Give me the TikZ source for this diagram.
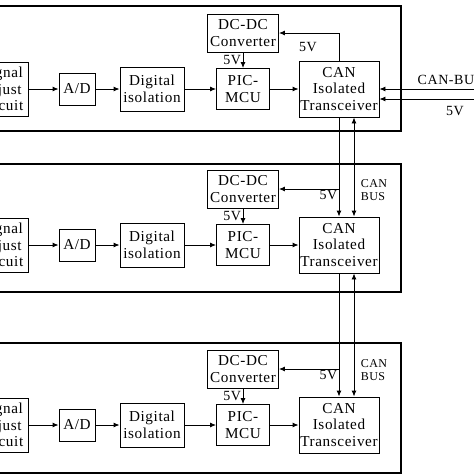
\documentclass[tikz,border=0pt]{standalone}
\usepackage{fontspec}
\setmainfont{Liberation Serif}
\newfontfamily\boxfont[LetterSpace=4]{Liberation Serif}
\usetikzlibrary{arrows.meta}

\tikzset{
    blk/.style={draw, line width=0.9pt, align=center, inner sep=1pt,
        font=\boxfont\fontsize{15.2}{16.5}\selectfont},
    arr/.style={-{Latex[length=6pt,width=5pt]}, line width=0.9pt},
    lbl/.style={font=\boxfont\fontsize{14}{16}\selectfont, inner sep=1.5pt},
    smalllbl/.style={font=\boxfont\fontsize{12}{13}\selectfont, align=left, inner sep=0pt}
}

\begin{document}
\begin{tikzpicture}[x=1pt, y=-1pt]
    \useasboundingbox (0,0) rectangle (474,474);
    % three identical node panels
    \foreach \i/\y/\t/\b in {1/89/6/131, 2/245/164/292, 3/425/343/473} {
        \draw[line width=2.2pt] (-10,\t) rectangle (401,\b);
        \node[blk, minimum width=52pt, minimum height=54pt] (sig\i) at (2,\y) {Signal\\adjust\\circuit};
        \node[blk, minimum width=36pt, minimum height=32pt] (ad\i) at (77,\y) {A/D};
        \node[blk, minimum width=64pt, minimum height=44pt] (dig\i) at (152,\y) {Digital\\isolation};
        \node[blk, minimum width=53pt, minimum height=41pt] (mcu\i) at (243,\y) {PIC-\\MCU};
        \node[blk, minimum width=71pt, minimum height=38pt] (dc\i) at (243,\y-56) {DC-DC\\Converter};
        \node[blk, minimum width=80pt, minimum height=56pt] (can\i) at (339,\y) {CAN\\Isolated\\Transceiver};
        \draw[arr] (sig\i) -- (ad\i);
        \draw[arr] (ad\i) -- (dig\i);
        \draw[arr] (dig\i) -- (mcu\i);
        \draw[arr] (mcu\i) -- (can\i);
        \draw[arr] (dc\i) -- node[lbl, left] {5V} (mcu\i);
    }
    % bus and power coming in on the right
    \coordinate (busin) at (480,89);
    \coordinate (pwrin) at (480,99);
    \draw[arr] (busin) -- (can1.east |- busin);
    \draw[arr] (pwrin) -- (can1.east |- pwrin);
    \node[lbl, anchor=west] (buslbl) at (416,80) {CAN-BUS};
    \node[lbl] (pwrlbl) at (455,111) {5V};
    \draw[arr] (can1.north) |- (dc1.east);
    \node[lbl] (v1) at (308,47) {5V};
    % links between the panels
    \draw[arr] (can1.south) -- (can2.north);
    \draw[arr] (can2.south) -- (can3.north);
    \draw[{Latex[length=6pt,width=5pt]}-{Latex[length=6pt,width=5pt]}, line width=0.9pt]
        ([xshift=15pt]can1.south) -- ([xshift=15pt]can2.north);
    \draw[{Latex[length=6pt,width=5pt]}-{Latex[length=6pt,width=5pt]}, line width=0.9pt]
        ([xshift=15pt]can2.south) -- ([xshift=15pt]can3.north);
    \foreach \i/\y in {2/245, 3/425} {
        \coordinate (tap\i) at (339,\y-56);
        \draw[arr] (tap\i) -- (dc\i.east |- tap\i);
        \node[lbl, below left] (v\i) at (tap\i) {5V};
        \node[smalllbl] (canbus\i) at (374,\y-55) {CAN\\BUS};
    }
\end{tikzpicture}
\end{document}
